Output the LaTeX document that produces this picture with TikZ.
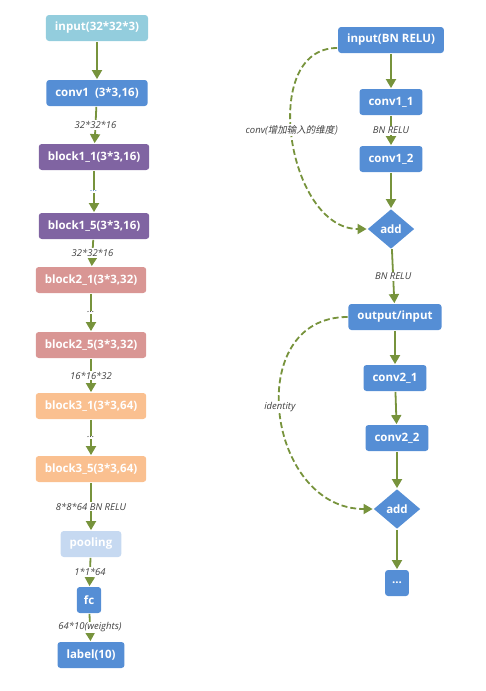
\documentclass[tikz,border=0pt]{standalone}
\usepackage{fontspec}
\setmainfont{Open Sans}
\newfontfamily\cjk[FakeSlant=0.2]{Noto Sans CJK SC}
\usepackage{tikz}
\usetikzlibrary{arrows.meta,shapes.geometric}
\definecolor{inputcyan}{HTML}{93CDDD}
\definecolor{convblue}{HTML}{558ED5}
\definecolor{blockpurple}{HTML}{8064A2}
\definecolor{blockrose}{HTML}{D99694}
\definecolor{blockpeach}{HTML}{FAC090}
\definecolor{poolblue}{HTML}{C6D9F1}
\definecolor{edgegreen}{HTML}{77933C}
\definecolor{labgray}{HTML}{404040}
\definecolor{dotblue}{HTML}{4F81BD}

\begin{document}
\begin{tikzpicture}[x=1pt,y=1pt,->,>={Triangle[width=10pt,length=9pt]},node distance=65pt,line width=1.8pt]
  \tikzstyle{layer}=[rectangle,rounded corners=3pt,minimum height=26pt,inner xsep=9pt,text=white,font=\fontsize{11.5}{13}\selectfont\bfseries]
  \tikzstyle{addnode}=[diamond,minimum width=47pt,minimum height=40pt,inner sep=0pt,fill=convblue,text=white,font=\fontsize{11.5}{13}\selectfont\bfseries]
  \tikzstyle{lbl}=[fill=white,text=labgray,inner sep=1pt,font=\fontsize{9.5}{11}\selectfont\itshape]
  \tikzstyle{link}=[draw=edgegreen]
  \tikzstyle{skip}=[draw=edgegreen,dash pattern=on 6pt off 3pt]

  \useasboundingbox (0,0) rectangle (485,-691);

  % main network
  \node[layer,fill=inputcyan]   (inp)   at (97,-28)                           {input(32*32*3)};
  \node[layer,fill=convblue]    (conv1) [below of=inp]                        {conv1\ \ (3*3,16)};
  \node[layer,fill=blockpurple] (b11)   [below of=conv1,node distance=64pt,xshift=-3pt] {block1\_1(3*3,16)};
  \node[layer,fill=blockpurple] (b15)   [below of=b11,node distance=69pt]    {block1\_5(3*3,16)};
  \node[layer,fill=blockrose]   (b21)   [below of=b15,node distance=54pt,xshift=-3pt] {block2\_1(3*3,32)};
  \node[layer,fill=blockrose]   (b25)   [below of=b21,node distance=65pt]    {block2\_5(3*3,32)};
  \node[layer,fill=blockpeach]  (b31)   [below of=b25,node distance=61pt]    {block3\_1(3*3,64)};
  \node[layer,fill=blockpeach]  (b35)   [below of=b31,node distance=63pt]    {block3\_5(3*3,64)};
  \node[layer,fill=poolblue]    (pool)  [below of=b35,node distance=75pt]    {pooling};
  \node[layer,fill=convblue,inner xsep=7pt] (fc) [below of=pool,node distance=56pt,xshift=-2pt] {fc};
  \node[layer,fill=convblue]    (out)   [below of=fc,node distance=55pt,xshift=2pt] {label(10)};

  \path (inp)   edge[link]                                 (conv1)
        (conv1) edge[link] node[lbl]{32*32*16}             (b11)
        (b11)   edge[link] node[lbl,text=dotblue]{...}     (b15)
        (b15)   edge[link] node[lbl]{32*32*16}             (b21)
        (b21)   edge[link] node[lbl]{...}                  (b25)
        (b25)   edge[link] node[lbl]{16*16*32}             (b31)
        (b31)   edge[link] node[lbl]{...}                  (b35)
        (b35)   edge[link] node[lbl]{8*8*64 BN RELU}       (pool)
        (pool)  edge[link] node[lbl]{1*1*64}               (fc)
        (fc)    edge[link] node[lbl]{64*10(weights)}       (out);

  % residual block
  \node[layer,fill=convblue] (rin)   at (391,-40)                             {input(BN RELU)};
  \node[layer,fill=convblue] (c11)   [below of=rin,node distance=62pt]       {conv1\_1};
  \node[layer,fill=convblue] (c12)   [below of=c11,node distance=57pt]       {conv1\_2};
  \node[addnode]             (add1)  [below of=c12,node distance=70pt]       {add};
  \node[layer,fill=convblue] (outin) [below of=add1,node distance=88pt,xshift=4pt] {output/input};
  \node[layer,fill=convblue] (c21)   [below of=outin,node distance=61pt]     {conv2\_1};
  \node[layer,fill=convblue] (c22)   [below of=c21,node distance=60pt,xshift=2pt] {conv2\_2};
  \node[addnode]             (add2)  [below of=c22,node distance=71pt]       {add};
  \node[layer,fill=convblue,inner xsep=7pt] (more) [below of=add2,node distance=74pt] {...};

  \path (rin)   edge[link]                          (c11)
        (c11)   edge[link] node[lbl]{BN RELU}       (c12)
        (c12)   edge[link]                          (add1)
        (add1)  edge[link] node[lbl]{BN RELU}       (outin)
        (outin) edge[link]                          (c21)
        (c21)   edge[link]                          (c22)
        (c22)   edge[link]                          (add2)
        (add2)  edge[link]                          (more);

  \draw[skip] ([yshift=-8pt]rin.west) to[out=180,in=180,looseness=1.1]
      node[lbl,pos=0.47]{conv(\cjk{增加输入的维度})} (add1.west);
  \draw[skip] (outin.west) to[out=180,in=180,looseness=1.4]
      node[lbl,pos=0.48]{identity} (add2.west);
\end{tikzpicture}
\end{document}
